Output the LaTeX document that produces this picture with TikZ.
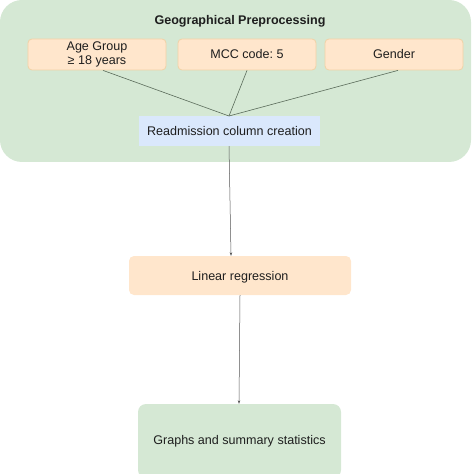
\documentclass[tikz,border=0pt]{standalone}
\usepackage{fontspec}
\setmainfont{Liberation Sans}
\usetikzlibrary{arrows.meta}
\frenchspacing
\begin{document}
\begin{tikzpicture}[x=1bp,y=-1bp,
  peach/.style={draw=peachline, fill=peachfill, rounded corners=4bp, line width=0.8bp, minimum width=138bp, minimum height=31bp, inner sep=0pt},
  conn/.style={draw=connline, line width=0.6bp},
  arr/.style={draw=arrline, line width=0.5bp, -{Stealth[length=3.5bp,width=2.5bp]}},
  lbl/.style={font=\fontsize{12.6}{14}\selectfont, text=textcol, align=center},
  oneline/.style={text height=9bp, text depth=0bp}]
\definecolor{greenfill}{HTML}{D5E8D4}
\definecolor{peachfill}{HTML}{FFE6CC}
\definecolor{peachline}{HTML}{F2D2A6}
\definecolor{bluefill}{HTML}{DAE8FC}
\definecolor{connline}{HTML}{5A6B5A}
\definecolor{arrline}{HTML}{555555}
\definecolor{textcol}{HTML}{1E1E1E}
\useasboundingbox (0,0) rectangle (474,474);
% container
\node[fill=greenfill, rounded corners=22bp, minimum width=471bp, minimum height=162bp, inner sep=0pt] (cont) at (235.5,81) {};
\node[lbl, oneline, font=\fontsize{12.6}{14}\selectfont\bfseries] (title) at (240,20) {Geographical Preprocessing};
% top boxes
\node[peach, lbl] (age) at (97,54.5) {Age Group\\≥ 18 years};
\node[peach, lbl, oneline] (mcc) at (247,54.5) {MCC code: 5};
\node[peach, lbl, oneline] (gender) at (394,54.5) {Gender};
% readmission
\node[fill=bluefill, minimum width=181bp, minimum height=30bp, inner sep=0pt, lbl, oneline] (readm) at (229.5,131) {Readmission column creation};
\coordinate (join) at (229,116);
\draw[conn] ([xshift=6bp]age.south) -- (join);
\draw[conn] (mcc.south) -- (join);
\draw[conn] ([xshift=4bp]gender.south) -- (join);
% linear regression
\node[fill=peachfill, rounded corners=5bp, minimum width=222bp, minimum height=39bp, inner sep=0pt, lbl, oneline] (lin) at (240,275.5) {Linear regression};
% graphs
\node[fill=greenfill, rounded corners=8bp, minimum width=203bp, minimum height=74bp, inner sep=0pt, lbl, text height=9bp, text depth=2bp] (graphs) at (239.5,441) {Graphs and summary statistics};
\draw[arr] ([xshift=-0.5bp]readm.south) -- ([xshift=-9bp]lin.north);
\draw[arr] (lin.south) -- ([xshift=-0.5bp]graphs.north);
\end{tikzpicture}
\end{document}
